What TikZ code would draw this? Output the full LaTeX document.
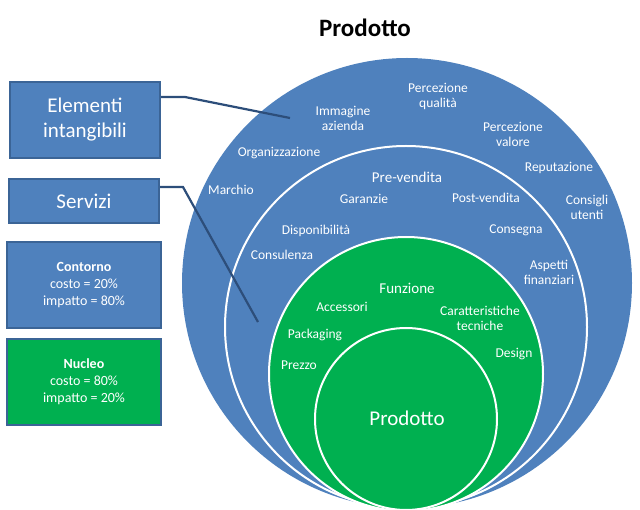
\documentclass[tikz,border=0pt]{standalone}
\usepackage{fontspec}
\setmainfont{Carlito}
\definecolor{pblue}{HTML}{4F81BD}
\definecolor{pborder}{HTML}{3B6496}
\definecolor{pgreen}{HTML}{00B050}
\definecolor{pline}{HTML}{2D4E7A}
\begin{document}
\begin{tikzpicture}[x=1pt,y=-1pt,
  box/.style={draw=pborder,line width=2pt,fill=pblue,text=white,align=center,inner sep=0pt},
  lbl/.style={text=white,align=center,font=\fontsize{13.5}{15}\selectfont,inner sep=0pt},
  big/.style={lbl,font=\fontsize{15}{16}\selectfont},
  conn/.style={draw=pline,line width=2.2pt}]
\useasboundingbox (0,0) rectangle (640,510);
\fill[pblue] (407,283) circle (225);
\draw[white,line width=2pt] (406,327) circle (181);
\draw[white,line width=2pt,fill=pgreen] (406,374) circle (137);
\draw[white,line width=2pt] (406,419) circle (91);
\node[font=\bfseries\fontsize{25}{27}\selectfont] (title) at (365,28) {Prodotto};
\node[box,minimum width=150,minimum height=76,font=\fontsize{21}{25}\selectfont] (ei) at (85,120) {Elementi\\intangibili};
\node[box,minimum width=150,minimum height=44,font=\fontsize{21}{25}\selectfont] (se) at (84,201) {Servizi};
\node[box,minimum width=154,minimum height=86,font=\fontsize{14}{17}\selectfont] (co) at (84,285) {\textbf{Contorno}\\costo = 20\%\\impatto = 80\%};
\node[box,fill=pgreen,minimum width=154,minimum height=86,font=\fontsize{14}{17}\selectfont] (nu) at (84,382) {\textbf{Nucleo}\\costo = 80\%\\impatto = 20\%};
\coordinate (e1) at (185,97); \coordinate (e2) at (290,118);
\coordinate (s1) at (183,187); \coordinate (s2) at (258,322);
\draw[conn] (ei.east |- e1) -- (e1) -- (e2);
\draw[conn] (se.east |- s1) -- (s1) -- (s2);
\node[lbl] (n1) at (343,118) {Immagine\\azienda};
\node[lbl] (n2) at (438,96) {Percezione\\qualità};
\node[lbl] (n3) at (513,134) {Percezione\\valore};
\node[lbl] (n4) at (279,153) {Organizzazione};
\node[lbl] (n5) at (559,168) {Reputazione};
\node[lbl] (n6) at (231,190) {Marchio};
\node[lbl] (n7) at (587,207) {Consigli\\utenti};
\node[big] (n8) at (407,177) {Pre-vendita};
\node[lbl] (n9) at (364,199) {Garanzie};
\node[lbl] (n10) at (486,198) {Post-vendita};
\node[lbl] (n11) at (316,231) {Disponibilità};
\node[lbl] (n12) at (516,230) {Consegna};
\node[lbl] (n13) at (282,255) {Consulenza};
\node[lbl] (n14) at (549,272) {Aspetti\\finanziari};
\node[big] (n15) at (407,288) {Funzione};
\node[lbl] (n16) at (342,307) {Accessori};
\node[lbl] (n17) at (480,318) {Caratteristiche\\tecniche};
\node[lbl] (n18) at (315,335) {Packaging};
\node[lbl] (n19) at (514,354) {Design};
\node[lbl] (n20) at (299,365) {Prezzo};
\node[lbl,font=\fontsize{21}{23}\selectfont] (n21) at (407,418) {Prodotto};
\end{tikzpicture}
\end{document}
